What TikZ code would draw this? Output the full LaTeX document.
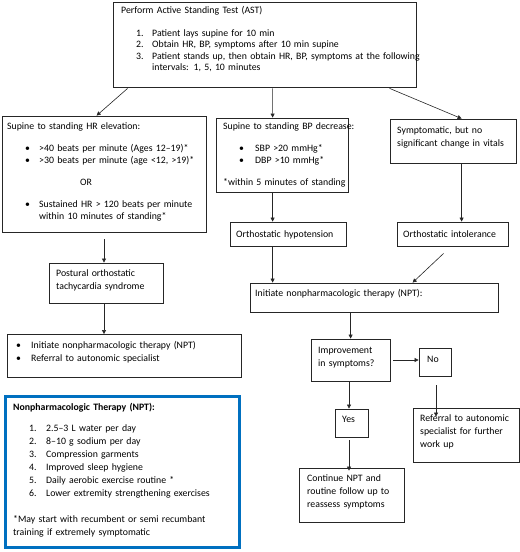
\documentclass[tikz,border=0pt]{standalone}
\usepackage{fontspec}
\setmainfont{Carlito}
\usetikzlibrary{arrows.meta}
\definecolor{npblue}{HTML}{0070C0}
\begin{document}
\begin{tikzpicture}[x=1bp,y=-1bp,
  box/.style={draw=black!85, line width=0.8bp, inner sep=0, fill=white},
  bluebox/.style={draw=npblue, line width=3bp, inner sep=0},
  txt/.style={anchor=base west, inner sep=0, text width=330bp, align=left,
    font=\fontsize{9.8bp}{12bp}\selectfont},
  arr/.style={-{Triangle[length=4bp,width=4bp]}, line width=0.6bp, black!85}]
\useasboundingbox (0,0) rectangle (520,552);

% boxes
\node[box, minimum width=303bp, minimum height=85bp] (ast) at (264.5,44.5) {};
\node[box, minimum width=204bp, minimum height=116bp] (hr) at (104,174) {};
\node[box, minimum width=132bp, minimum height=74bp] (bp) at (282,155) {};
\node[box, minimum width=126bp, minimum height=44bp] (sym) at (453,141) {};
\node[box, minimum width=116bp, minimum height=24bp] (oh) at (288,234) {};
\node[box, minimum width=111bp, minimum height=24bp] (oi) at (452.5,234) {};
\node[box, minimum width=114bp, minimum height=40bp] (pots) at (106,283) {};
\node[box, minimum width=234bp, minimum height=43bp] (bul) at (124,356) {};
\node[box, minimum width=248bp, minimum height=29bp] (npt) at (374,297.5) {};
\node[box, minimum width=79bp, minimum height=42bp] (imp) at (350.5,360) {};
\node[box, minimum width=32bp, minimum height=28bp] (no) at (435,362) {};
\node[box, minimum width=106bp, minimum height=54bp] (ref) at (466,435) {};
\node[box, minimum width=33bp, minimum height=28bp] (yes) at (351.5,423) {};
\node[box, minimum width=105bp, minimum height=54bp] (cont) at (351.5,495) {};
\node[bluebox, minimum width=234bp, minimum height=151bp] (blue) at (122.5,472) {};

% texts
\node[txt, font=\fontsize{9.8bp}{11.3bp}\selectfont] (asttxt) at (121,14) {Perform Active Standing Test (AST)\\[11.2bp]
\hspace*{15bp}\makebox[16bp][l]{1.}Patient lays supine for 10 min\\
\hspace*{15bp}\makebox[16bp][l]{2.}Obtain HR, BP, symptoms after 10 min supine\\
\hspace*{15bp}\makebox[16bp][l]{3.}Patient stands up, then obtain HR, BP, symptoms at the following\\
\hspace*{31bp}intervals: 1, 5, 10 minutes};

\node[txt] (hrtxt) at (7,130) {Supine to standing HR elevation:\\[10bp]
\hspace*{18bp}\makebox[14bp][l]{•}>40 beats per minute (Ages 12–19)*\\
\hspace*{18bp}\makebox[14bp][l]{•}>30 beats per minute (age <12, >19)*\\[10bp]
\hspace*{73bp}OR\\[10bp]
\hspace*{18bp}\makebox[14bp][l]{•}Sustained HR > 120 beats per minute\\
\hspace*{32bp}within 10 minutes of standing*};

\node[txt] (bptxt) at (223,130) {Supine to standing BP decrease:\\[10bp]
\hspace*{16bp}\makebox[16bp][l]{•}SBP >20 mmHg*\\
\hspace*{16bp}\makebox[16bp][l]{•}DBP >10 mmHg*\\[10bp]
*within 5 minutes of standing};

\node[txt] (symtxt) at (397,134) {Symptomatic, but no\\[1bp]significant change in vitals};
\node[txt] (ohtxt) at (236,237) {Orthostatic hypotension};
\node[txt] (oitxt) at (403,237) {Orthostatic intolerance};
\node[txt] (potstxt) at (56,276) {Postural orthostatic\\[1bp]tachycardia syndrome};
\node[txt] (bultxt) at (16,348) {\makebox[15bp][l]{•}Initiate nonpharmacologic therapy (NPT)\\[1bp]
\makebox[15bp][l]{•}Referral to autonomic specialist};
\node[txt] (npttxt) at (255,296) {Initiate nonpharmacologic therapy (NPT):};
\node[txt] (imptxt) at (318,353) {Improvement\\[1bp]in symptoms?};
\node[txt] (notxt) at (427,362) {No};
\node[txt] (yestxt) at (342,422) {Yes};
\node[txt] (reftxt) at (420,421) {Referral to autonomic\\[1bp]specialist for further\\[1bp]work up};
\node[txt] (conttxt) at (307,481) {Continue NPT and\\[1bp]routine follow up to\\[1bp]reassess symptoms};

\node[txt, font=\fontsize{9.8bp}{13bp}\selectfont] (bluetxt) at (13,410) {\textbf{Nonpharmacologic Therapy (NPT):}\\[8bp]
\hspace*{16bp}\makebox[17bp][l]{1.}2.5–3 L water per day\\
\hspace*{16bp}\makebox[17bp][l]{2.}8–10 g sodium per day\\
\hspace*{16bp}\makebox[17bp][l]{3.}Compression garments\\
\hspace*{16bp}\makebox[17bp][l]{4.}Improved sleep hygiene\\
\hspace*{16bp}\makebox[17bp][l]{5.}Daily aerobic exercise routine *\\
\hspace*{16bp}\makebox[17bp][l]{6.}Lower extremity strengthening exercises\\[13bp]
*May start with recumbent or semi recumbant\\
training if extremely symptomatic};

% connectors
\draw[arr] ([shift={(15bp,-1bp)}]ast.south west) -- ([xshift=95bp]hr.north west);
\draw[arr] ([shift={(160bp,-1bp)}]ast.south west) -- ([xshift=57bp]bp.north west);
\draw[arr] ([shift={(277bp,-1bp)}]ast.south west) -- ([xshift=72bp]sym.north west);
\draw[arr] ([yshift=-7bp]hr.south) -- (hr.south |- pots.north);
\draw[arr] ([xshift=-2bp]pots.south) -- ([xshift=-2bp]pots.south |- bul.north);
\draw[arr] ([xshift=57bp]bp.south west) -- ([xshift=57bp]bp.south west |- oh.north);
\draw[arr] ([xshift=72bp]sym.south west) -- ([xshift=72bp]sym.south west |- oi.north);
\draw[arr] ([xshift=43bp]oh.south west) -- ([xshift=43bp]oh.south west |- npt.north);
\draw[arr] ([shift={(47bp,-7bp)}]oi.south west) -- ([xshift=163bp]npt.north west);
\draw[arr] ([xshift=101bp]npt.south west) -- ([xshift=101bp]npt.south west |- imp.north);
\draw[arr] ([xshift=3bp]imp.east) -- (no.west |- imp.east);
\draw[arr] ([shift={(1bp,-9bp)}]no.south) -- ([shift={(1bp,-9bp)}]no.south |- ref.north);
\draw[arr] ([xshift=-1.5bp]imp.south) -- ([xshift=-1.5bp]imp.south |- yes.north);
\draw[arr] ([shift={(-2.5bp,-3bp)}]yes.south) -- ([shift={(-2.5bp,-3bp)}]yes.south |- cont.north);
\end{tikzpicture}
\end{document}
